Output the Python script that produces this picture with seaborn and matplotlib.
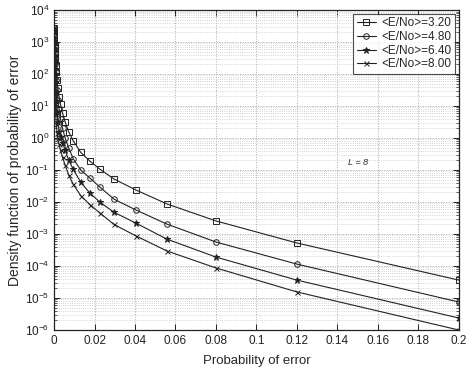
import numpy as np
import pandas as pd
import matplotlib
matplotlib.use("Agg")
import matplotlib.pyplot as plt
import seaborn as sns
from matplotlib.ticker import LogLocator, NullFormatter

# ---- data ----
pe = [0.00005, 0.0001, 0.00013, 0.00017, 0.00022, 0.0003, 0.00038, 0.0005,
      0.00065, 0.00085, 0.0011, 0.0015, 0.0019, 0.0025, 0.0032, 0.0042,
      0.0055, 0.0072, 0.0095, 0.0132, 0.0177, 0.0226, 0.0296, 0.0405,
      0.0558, 0.08, 0.12, 0.2]

log_snr320 = [3.45, 3.35, 3.25, 3.15, 3.05, 2.92, 2.80, 2.65, 2.50, 2.28,
              2.05, 1.80, 1.55, 1.28, 1.05, 0.78, 0.50, 0.20, -0.09, -0.45,
              -0.72, -0.97, -1.28, -1.625, -2.06, -2.59, -3.28, -4.44]
log_snr480 = [3.45, 3.35, 3.22, 3.10, 3.00, 2.85, 2.70, 2.50, 2.30, 2.05,
              1.80, 1.50, 1.20, 0.90, 0.60, 0.30, 0.00, -0.30, -0.65, -1.00,
              -1.25, -1.53, -1.91, -2.25, -2.69, -3.25, -3.94, -5.125]
log_snr640 = [3.42, 3.30, 3.10, 2.90, 2.70, 2.50, 2.30, 2.00, 1.75, 1.45,
              1.15, 0.80, 0.50, 0.20, 0.02, -0.14, -0.38, -0.68, -0.98, -1.38,
              -1.72, -2.00, -2.32, -2.66, -3.16, -3.72, -4.44, -5.625]
log_snr800 = [3.40, 3.20, 2.90, 2.65, 2.40, 2.10, 1.80, 1.45, 1.10, 0.75,
              0.45, 0.15, 0.00, -0.20, -0.38, -0.60, -0.85, -1.15, -1.45, -1.80,
              -2.08, -2.34, -2.70, -3.06, -3.53, -4.06, -4.81, -6.00]

series_labels = ["<E/No>=3.20", "<E/No>=4.80", "<E/No>=6.40", "<E/No>=8.00"]
series_logs = [log_snr320, log_snr480, log_snr640, log_snr800]
markers = ["s", "o", "*", "x"]
msizes = [3.8, 4.0, 4.6, 3.6]

xticks = [0, 0.02, 0.04, 0.06, 0.08, 0.1, 0.12, 0.14, 0.16, 0.18, 0.2]
xticklabels = ["0", "0.02", "0.04", "0.06", "0.08", "0.1", "0.12", "0.14", "0.16", "0.18", "0.2"]
ydecades = [-6, -5, -4, -3, -2, -1, 0, 1, 2, 3, 4]

sns.set_style("ticks")
plt.rcParams["font.family"] = ["Liberation Sans", "DejaVu Sans"]
plt.rcParams["mathtext.default"] = "regular"

fig = plt.figure(figsize=(4.74, 3.86), dpi=100)
ax = fig.add_axes([0.114, 0.145, 0.854, 0.829])

ink = "#222222"
for lab, lg, m, ms in zip(series_labels, series_logs, markers, msizes):
    df = pd.DataFrame({"pe": pe, "density": np.power(10.0, lg)})
    filled = m in ("*", "x")
    sns.lineplot(data=df, x="pe", y="density", ax=ax, color=ink,
                 marker=m, markersize=ms,
                 markerfacecolor=ink if filled else "none",
                 markeredgecolor=ink, markeredgewidth=0.7,
                 linewidth=0.8, label=lab, sort=False, estimator=None)

ax.set_yscale("log")
ax.set_xlim(0, 0.2)
ax.set_ylim(1e-6, 1e4)
ax.set_xticks(xticks)
ax.set_xticklabels(xticklabels)
ax.set_yticks([10.0 ** d for d in ydecades])
ax.set_yticklabels([r"$10^{%d}$" % d for d in ydecades])
ax.yaxis.set_minor_locator(LogLocator(base=10, subs=np.arange(2, 10), numticks=100))
ax.yaxis.set_minor_formatter(NullFormatter())

ax.grid(True, which="major", linestyle=":", color="#aaaaaa", linewidth=0.7)
ax.grid(True, which="minor", axis="y", linestyle=":", color="#c4c4c4", linewidth=0.6)
ax.set_axisbelow(True)

ax.tick_params(which="both", direction="in", top=True, right=True,
               labelsize=8.5, colors=ink)
ax.tick_params(which="major", length=4, width=0.7)
ax.tick_params(which="minor", length=2, width=0.5)
for s in ax.spines.values():
    s.set_color(ink)
    s.set_linewidth(0.9)

ax.set_xlabel("Probability of error", fontsize=9.5, labelpad=6)
ax.set_ylabel("Density function of probability of error", fontsize=10, labelpad=2)

ax.text(0.150, 0.166, "L = 8", fontsize=6.5, style="italic",
        ha="center", va="center", color="#333333")

leg = ax.legend(loc="upper right", fontsize=8.5, frameon=True, fancybox=False,
                borderaxespad=0.3, handlelength=1.6, handletextpad=0.5,
                borderpad=0.3, labelspacing=0.15, markerscale=1.0)
leg.get_frame().set_edgecolor(ink)
leg.get_frame().set_linewidth(0.8)

fig.savefig("out.png", dpi=100)
